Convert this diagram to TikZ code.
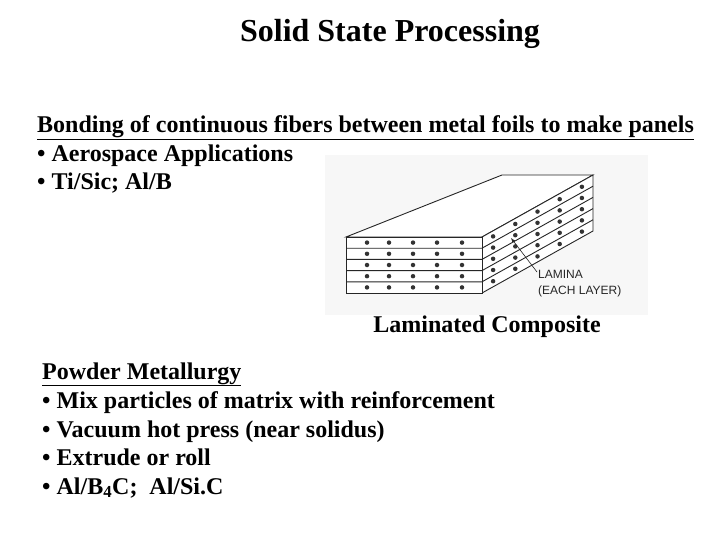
\documentclass[tikz,border=0pt]{standalone}
\usepackage{fontspec}
\setmainfont{Liberation Serif}
\setsansfont{Liberation Sans}
\begin{document}
\begin{tikzpicture}[x=1pt,y=-1pt,
  txt/.style={anchor=base west,inner sep=0,font=\fontsize{24}{28}\selectfont\bfseries},
  ttl/.style={anchor=base,inner sep=0,font=\fontsize{32}{36}\selectfont\bfseries},
  edge/.style={line width=0.9pt,gray!30!black},
  dot/.style={circle,fill=gray!40!black,inner sep=0,minimum size=4.5pt}]
\useasboundingbox (0,0) rectangle (720,540);
\fill[white] (0,0) rectangle (720,540);
\node[ttl] (title) at (390,42) {Solid State Processing};
\node[txt] (l1) at (37,133) {\underline{Bonding of continuous fibers between metal foils to make panels}};
\node[txt] (l2) at (37,162) {\textbullet\ Aerospace Applications};
\node[txt] (l3) at (37,190) {\textbullet\ Ti/Sic; Al/B};
% figure
\fill[gray!6] (325,155) rectangle (648,315);
\draw[edge,fill=white] (346,237) -- (502,175) -- (593,175) -- (482,237) -- cycle;
\draw[edge,fill=white] (482,237) -- (593,175) -- (593,231) -- (482,293) -- cycle;
\draw[edge,fill=white] (346,237) rectangle (482,293);
\foreach \i in {1,...,4}{
  \draw[edge] (346,237+11.2*\i) -- (482,237+11.2*\i) -- (593,175+11.2*\i);
}
\foreach \i in {0,...,4}{
  \foreach \x in {367,389,413,437,462}{
    \node[dot] at (\x,242.6+11.2*\i) {};
  }
  \foreach \t in {0.1,0.3,0.5,0.7,0.9}{
    \node[dot] at (482+111*\t,242.6+11.2*\i-62*\t) {};
  }
}
\coordinate (tip) at (511,238);
\node[anchor=west,inner sep=0,align=left,font=\sffamily\fontsize{12}{16}\selectfont,gray!30!black] (lam) at (538,284) {LAMINA\\(EACH LAYER)};
\draw[gray!30!black,line width=0.6pt,-latex] (537,272) -- (tip);
\node[txt,anchor=base] (cap) at (487,332) {Laminated Composite};
\node[txt] (p1) at (42,379) {\underline{Powder Metallurgy}};
\node[txt] (p2) at (42,408) {\textbullet\ Mix particles of matrix with reinforcement};
\node[txt] (p3) at (42,437) {\textbullet\ Vacuum hot press (near solidus)};
\node[txt] (p4) at (42,465) {\textbullet\ Extrude or roll};
\node[txt] (p5) at (42,494) {\textbullet\ Al/B\textsubscript{4}C;\ \ Al/Si.C};
\end{tikzpicture}
\end{document}
